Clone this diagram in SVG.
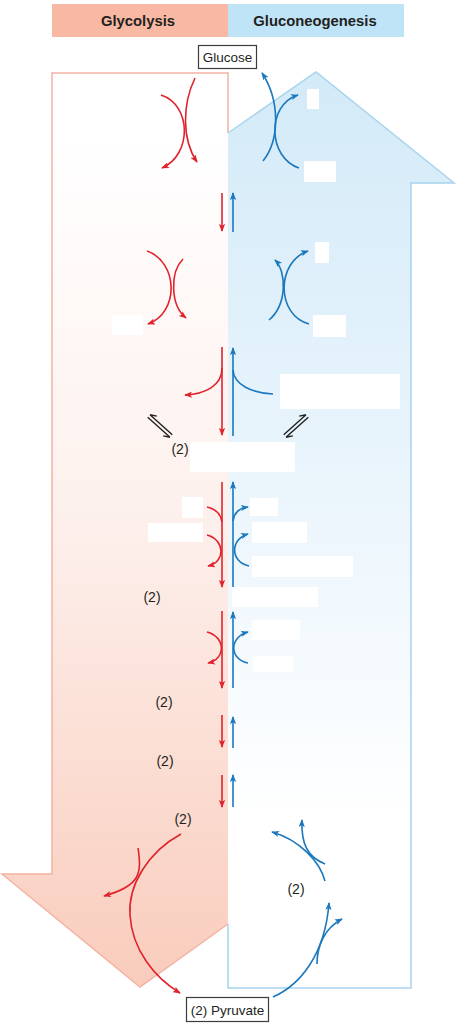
<svg xmlns="http://www.w3.org/2000/svg" width="471" height="1024" viewBox="0 0 471 1024">
<defs>
<linearGradient id="pinkGrad" gradientUnits="userSpaceOnUse" x1="0" y1="140" x2="0" y2="987">
<stop offset="0" stop-color="#ffffff"/>
<stop offset="0.45" stop-color="#fdf0ec"/>
<stop offset="1" stop-color="#f9ccbc"/>
</linearGradient>
<linearGradient id="blueGrad" gradientUnits="userSpaceOnUse" x1="0" y1="72" x2="0" y2="820">
<stop offset="0" stop-color="#d3eaf8"/>
<stop offset="0.5" stop-color="#e8f4fc"/>
<stop offset="1" stop-color="#ffffff"/>
</linearGradient>
<marker id="arR" viewBox="0 0 9 7" refX="8" refY="3.5" markerWidth="8" markerHeight="6.2" markerUnits="userSpaceOnUse" orient="auto">
<path d="M0,0 L9,3.5 L0,7 L2.2,3.5 Z" fill="#e1222c"/>
</marker>
<marker id="arB" viewBox="0 0 9 7" refX="8" refY="3.5" markerWidth="8" markerHeight="6.2" markerUnits="userSpaceOnUse" orient="auto">
<path d="M0,0 L9,3.5 L0,7 L2.2,3.5 Z" fill="#1b78bd"/>
</marker>
</defs>
<style>
.hdr{font-family:"Liberation Sans",Arial,sans-serif;font-weight:bold;font-size:14.8px;fill:#231f20;text-anchor:middle}
.lbl{font-family:"Liberation Sans",Arial,sans-serif;font-size:13.5px;fill:#231f20;text-anchor:middle}
.st{font-family:"Liberation Sans",Arial,sans-serif;font-size:14px;fill:#231f20;text-anchor:middle}
.box{fill:#ffffff;stroke:#3c3c3c;stroke-width:1.2}
.mask{fill:#ffffff}
.r{fill:none;stroke:#e1222c;stroke-width:1.6;marker-end:url(#arR)}
.rn{fill:none;stroke:#e1222c;stroke-width:1.6}
.b{fill:none;stroke:#1b78bd;stroke-width:1.6;marker-end:url(#arB)}
.bn{fill:none;stroke:#1b78bd;stroke-width:1.6}
.eq{fill:none;stroke:#222;stroke-width:1.4}
</style>

<g id="big-arrows">
<path d="M52,73 H228 V924 L140,987 L2,874 H52 Z" fill="url(#pinkGrad)"/>
<path d="M228,133 L316,72 L454,183 H411 V988 H228 Z" fill="url(#blueGrad)"/>
<path d="M228,133 V73 H52 V874 H2 L140,987 L228,924" fill="none" stroke="#f4b2a3" stroke-width="1.5"/>
<path d="M228,924 V988 H411 V183 H454 L316,72 L228,133" fill="none" stroke="#a8d4ee" stroke-width="1.5"/>
</g>

<g id="header">
<rect x="52" y="4" width="176" height="33" fill="#f8b8a4"/>
<rect x="228" y="4" width="176" height="33" fill="#bfe4f7"/>
<text class="hdr" x="138" y="26">Glycolysis</text>
<text class="hdr" x="315" y="26">Gluconeogenesis</text>
</g>

<g id="label-masks">
<rect class="mask" x="307" y="89" width="12" height="20"/>
<rect class="mask" x="304" y="161" width="32" height="21"/>
<rect class="mask" x="315" y="242" width="14" height="21"/>
<rect class="mask" x="313" y="315" width="33" height="22"/>
<rect class="mask" x="112" y="315" width="31" height="20"/>
<rect class="mask" x="280" y="374" width="120" height="35"/>
<rect class="mask" x="190" y="442" width="105" height="30"/>
<rect class="mask" x="182" y="497" width="21" height="21"/>
<rect class="mask" x="148" y="523" width="55" height="19"/>
<rect class="mask" x="250" y="498" width="28" height="18"/>
<rect class="mask" x="252" y="522" width="55" height="21"/>
<rect class="mask" x="252" y="556" width="101" height="21"/>
<rect class="mask" x="232" y="587" width="86" height="20"/>
<rect class="mask" x="252" y="620" width="48" height="20"/>
<rect class="mask" x="253" y="656" width="40" height="16"/>
</g>

<g id="node-glucose">
<rect class="box" x="198.5" y="45.5" width="58" height="23"/>
<text class="lbl" x="227.5" y="62">Glucose</text>
</g>

<g id="node-pyruvate">
<rect class="box" x="186.5" y="997.5" width="82" height="24"/>
<text class="lbl" x="227.5" y="1015">(2) Pyruvate</text>
</g>

<g id="stoich-labels">
<text class="st" x="180" y="454">(2)</text>
<text class="st" x="152" y="602">(2)</text>
<text class="st" x="164" y="707">(2)</text>
<text class="st" x="165" y="766">(2)</text>
<text class="st" x="183" y="824">(2)</text>
<text class="st" x="296" y="894">(2)</text>
</g>

<g id="connectors">
<path class="r" d="M195,78 C182,105 182,140 197,162"/>
<path class="r" d="M161,95 C192,105 192,155 162,168"/>
<path class="b" d="M263,161 C280,140 280,100 262,73"/>
<path class="b" d="M299,168 C268,158 266,105 298,95"/>
<path class="r" d="M222,193 L222,231"/>
<path class="b" d="M233,232 L233,193"/>
<path class="r" d="M147,251 C178,262 180,312 148,324"/>
<path class="r" d="M183,259 C170,272 170,305 186,318"/>
<path class="b" d="M269,320 C287,305 287,272 275,260"/>
<path class="b" d="M309,324 C276,315 276,262 308,251"/>
<path class="r" d="M222,347 L222,435"/>
<path class="r" d="M222,368 C222,386 205,394 185,395"/>
<path class="b" d="M233,436 L233,348"/>
<path class="bn" d="M273,394 C252,393 234,385 233,370"/>
<g transform="translate(160,426) rotate(42)">
<path class="eq" d="M-15,-1.7 H15 M-15,-1.7 L-9,-5.2"/>
<path class="eq" d="M-15,1.7 H15 M15,1.7 L9,5.2"/>
</g>
<g transform="translate(296,426) rotate(-42)">
<path class="eq" d="M-15,-1.7 H15 M15,-1.7 L9,-5.2"/>
<path class="eq" d="M-15,1.7 H15 M-15,1.7 L-9,5.2"/>
</g>
<path class="r" d="M222,482 L222,587"/>
<path class="rn" d="M207,507 C216,509 221,514 222,522"/>
<path class="r" d="M207,535 C225.5,540 225.5,562 208,566"/>
<path class="b" d="M233,587 L233,482"/>
<path class="b" d="M233,521 C234,512 240,508 248,507"/>
<path class="b" d="M249,566 C230,562 230,539 248,534"/>
<path class="r" d="M222,611 L222,688"/>
<path class="r" d="M207,632 C226,637 226,659 208,663"/>
<path class="b" d="M233,688 L233,612"/>
<path class="b" d="M248,663 C229,659 229,637 248,632"/>
<path class="r" d="M222,715 L222,747"/>
<path class="b" d="M233,748 L233,717"/>
<path class="r" d="M222,775 L222,807"/>
<path class="b" d="M233,807 L233,775"/>
<path class="r" d="M181,834 C148,852 128,885 130,915 C132,950 155,978 180,993"/>
<path class="r" d="M138,848 C142,874 140,886 104,896"/>
<path class="b" d="M273,997 C300,985 325,955 329,903"/>
<path class="b" d="M317,964 C317,945 325,928 342,919"/>
<path class="b" d="M325,881 C320,862 300,840 272,832"/>
<path class="b" d="M325,864 C308,857 301,845 302,820"/>
</g>
</svg>
